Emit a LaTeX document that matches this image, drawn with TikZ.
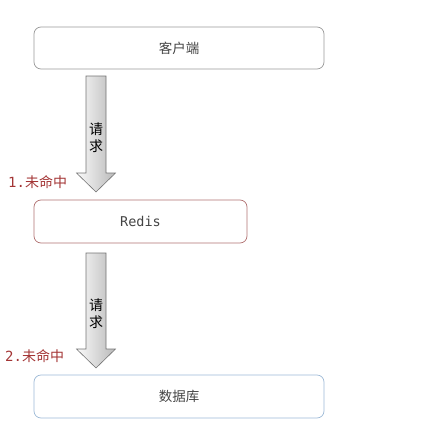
\documentclass[tikz,border=0pt]{standalone}
\usepackage{fontspec}
\setmonofont{DejaVu Sans Mono}
\newfontfamily\cjk{Noto Sans CJK SC}
\usetikzlibrary{positioning,calc}

\definecolor{boxtext}{HTML}{444444}
\definecolor{misscol}{HTML}{A33535}
\definecolor{redisline}{HTML}{B07070}
\definecolor{dbline}{HTML}{9DB9D6}

\begin{document}
\begin{tikzpicture}[
  x=1pt, y=1pt,
  box/.style={draw=gray!80, rounded corners=7pt, minimum height=42pt, outer sep=0pt,
    inner sep=0pt, line width=0.7pt, text=boxtext, font=\cjk\fontsize{13.5}{15}\selectfont},
  blockarrow/.style={draw=gray!90!black, line width=0.6pt, left color=gray!4, right color=gray!55},
  reqlabel/.style={align=center, inner sep=0pt, font=\cjk\fontsize{14}{17}\selectfont},
  misslabel/.style={text=misscol, inner sep=0pt, font=\cjk\fontsize{14}{16}\selectfont},
]
\useasboundingbox (0,0) rectangle (431,-439);

\node[box, minimum width=290pt, anchor=north west] (client) at (34,-27) {客户端};
\node[box, draw=redisline, minimum width=213pt, minimum height=43pt, below=131pt of client.south west, anchor=north west,
  font=\ttfamily\fontsize{13.5}{15}\selectfont] (redis) {Redis};
\node[box, draw=dbline, minimum width=290pt, minimum height=43pt, below=132pt of redis.south west, anchor=north west] (db) {数据库};

% request arrows
\coordinate (a1top) at ($(client.south west)+(62,-7)$);
\coordinate (a1tip) at ($(redis.north west)+(62,8)$);
\coordinate (a2top) at ($(redis.south west)+(62,-10)$);
\coordinate (a2tip) at ($(db.north west)+(62,7)$);

\draw[blockarrow] ($(a1top)+(-10,0)$) -- ($(a1top)+(10,0)$) -- ($(a1tip)+(10,19)$) -- ($(a1tip)+(19.5,19)$)
  -- (a1tip) -- ($(a1tip)+(-19.5,19)$) -- ($(a1tip)+(-10,19)$) -- cycle;
\draw[blockarrow] ($(a2top)+(-10,0)$) -- ($(a2top)+(10,0)$) -- ($(a2tip)+(10,19)$) -- ($(a2tip)+(19.5,19)$)
  -- (a2tip) -- ($(a2tip)+(-19.5,19)$) -- ($(a2tip)+(-10,19)$) -- cycle;

\node[reqlabel] (req1) at ($(a1top)+(0,-62)$) {请\\求};
\node[reqlabel] (req2) at ($(a2top)+(0,-61)$) {请\\求};

\node[misslabel, anchor=west] (miss1) at (8,-182) {{\ttfamily 1.}未命中};
\node[misslabel, anchor=west] (miss2) at (5,-356) {{\ttfamily 2.}未命中};
\end{tikzpicture}
\end{document}
